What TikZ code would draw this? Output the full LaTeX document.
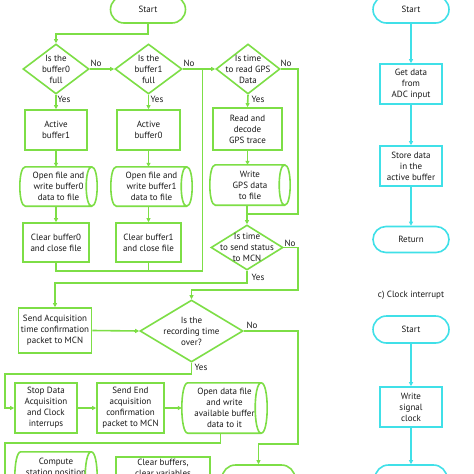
\documentclass[tikz,border=0pt]{standalone}
\usepackage{fontspec}
\setmainfont{PT Sans}
\usetikzlibrary{shapes.geometric,shapes.misc,arrows.meta,calc}
\definecolor{gr}{RGB}{125,222,70}
\definecolor{cy}{RGB}{64,224,232}
\definecolor{tx}{RGB}{25,25,25}
\newcommand\cylout[3]{%
  \draw[line width=1.6pt, draw=#3] let \p1=(#1.north west), \p2=(#1.south east) in
  (\x1+#2pt,\y1) -- (\x2-#2pt,\y1)
  .. controls (\x2+#2pt/3,\y1) and (\x2+#2pt/3,\y2) .. (\x2-#2pt,\y2)
  -- (\x1+#2pt,\y2)
  .. controls (\x1-#2pt/3,\y2) and (\x1-#2pt/3,\y1) .. cycle
  (\x2-#2pt,\y1) .. controls (\x2-7*#2pt/3,\y1) and (\x2-7*#2pt/3,\y2) .. (\x2-#2pt,\y2);}
\begin{document}
\begin{tikzpicture}[x=1pt,y=-1pt,
  every node/.style={font=\fontsize{9}{11}\selectfont, text=tx, align=center, inner sep=0pt},
  gl/.style={draw=gr, line width=1.6pt},
  cl/.style={draw=cy, line width=1.6pt},
  arr/.style={-{Triangle[length=4pt,width=4pt]}},
  term/.style={rounded rectangle, minimum height=27pt},
  proc/.style={rectangle},
  dec/.style={diamond},
  cyl/.style={rectangle},
  yn/.style={font=\fontsize{9}{11}\selectfont}
]
\useasboundingbox (0,0) rectangle (474,474);
\clip (0,0) rectangle (474,474);
\fill[white] (0,0) rectangle (474,474);

% ---------- left flowchart ----------
\node[term, gl, minimum width=75pt] (ls) at (148,9.5) {Start};
\node[dec, gl, minimum width=66pt, minimum height=50pt, label={[align=center]center:Is the\\buffer0\\full}] (d1) at (56,69) {};
\node[dec, gl, minimum width=67pt, minimum height=50pt, label={[align=center]center:Is the\\buffer1\\full}] (d2) at (148.5,69) {};
\node[dec, gl, minimum width=64pt, minimum height=50pt, label={[align=center]center:Is time\\to read GPS\\Data}] (d3) at (248,69) {};
\node[proc, gl, minimum width=62pt, minimum height=40pt] (b1) at (56,130) {Active\\buffer1};
\node[proc, gl, minimum width=63pt, minimum height=40pt] (b2) at (148.5,130) {Active\\buffer0};
\node[proc, gl, minimum width=69pt, minimum height=42pt] (b3) at (247.5,129) {Read and\\decode\\GPS trace};
\node[cyl, minimum width=77pt, minimum height=39pt] (c1) at (58.5,186.5) {Open file and\\write buffer0\\data to file};
\node[cyl, minimum width=81pt, minimum height=39pt] (c2) at (151.5,186.5) {Open file and\\write buffer1\\data to file};
\node[cyl, minimum width=80pt, minimum height=40pt] (c3) at (250,185) {Write\\GPS data\\to file};
\cylout{c1}{5.5}{gr}
\cylout{c2}{5.5}{gr}
\cylout{c3}{5.5}{gr}
\node[proc, gl, minimum width=66pt, minimum height=39pt] (cl1) at (56,242.5) {Clear buffer0\\and close file};
\node[proc, gl, minimum width=65pt, minimum height=39pt] (cl2) at (148.5,242.5) {Clear buffer1\\and close file};
\node[dec, gl, minimum width=72pt, minimum height=45pt, label={[align=center]center:Is time\\to send status\\to MCN}] (d4) at (247,247.5) {};
\node[proc, gl, minimum width=73pt, minimum height=45pt] (sa) at (55,330.5) {Send Acquisition\\time confirmation\\packet to MCN};
\node[dec, gl, minimum width=103pt, minimum height=62pt, label={[align=center]center:Is the\\recording time\\over?}] (d5) at (191.5,331) {};
\node[proc, gl, minimum width=62pt, minimum height=50pt] (sd) at (46,408) {Stop Data\\Acquisition\\and Clock\\interrups};
\node[proc, gl, minimum width=67pt, minimum height=50pt] (se) at (130.5,408) {Send End\\acquisition\\confirmation\\packet to MCN};
\node[cyl, minimum width=85pt, minimum height=50pt] (od) at (224.5,408) {Open data file\\and write\\available buffer\\data to it};
\cylout{od}{6}{gr}
\node[cyl, minimum width=82pt, minimum height=50pt, label={[align=center,anchor=north,yshift=-6.5pt]north:Compute\\station position}] (cs) at (56,477) {};
\cylout{cs}{6}{gr}
\node[proc, gl, minimum width=94pt, minimum height=45pt, label={[align=center,anchor=north,yshift=-2.5pt]north:Clear buffers,\\clear variables}] (cb) at (163,479.5) {};
\node[term, gl, minimum width=73pt] (fs) at (258.5,478.5) {};

\coordinate (j1) at (202.5,69);
\coordinate (jb) at (202.5,271);
\coordinate (j2) at (298,214);
\coordinate (j3) at (298,290);
\coordinate (j5) at (298,444);
\coordinate (j6) at (5,408);
\coordinate (j7) at (5,490);

\draw[gl, arr] (ls.south) -- ++(0,10) -| (d1.north);
\draw[gl, arr] (d1.east) -- (d2.west);
\draw[gl, arr] (d2.east) -- (d3.west);
\draw[gl, arr] (d1.south) -- (b1.north);
\draw[gl, arr] (d2.south) -- (b2.north);
\draw[gl, arr] (d3.south) -- (b3.north);
\draw[gl, arr] (b1.south) -- (b1.south |- c1.north);
\draw[gl, arr] (b2.south) -- (b2.south |- c2.north);
\draw[gl, arr] (cl1.north |- c1.south) -- (cl1.north);
\draw[gl, arr] (cl2.north |- c2.south) -- (cl2.north);
\draw[gl, arr] (b3.south) -- (b3.south |- c3.north);
\draw[gl, arr] (d4.north |- c3.south) -- (d4.north);
\draw[gl] (cl1.south) |- (jb) -- (j1);
\draw[gl] (cl2.south) -- (cl2.south |- jb);
\draw[gl] (d3.east) -| (j2) -- (d4.north |- j2);
\draw[gl, arr] (d4.east) -| (j3) -| (d5.north);
\draw[gl, arr] (d4.south) -- ++(0,12) -| (sa.north);
\draw[gl, arr] (sa.east) -- (d5.west);
\draw[gl, arr] (d5.east) -| (j5) -| (fs.north);
\draw[gl, arr] (d5.south) -- ++(0,11) -| (j6) -- (sd.west);
\draw[gl, arr] (sd.east) -- (se.west);
\draw[gl, arr] (se.east) -- (od.west);
\draw[gl] ([xshift=-4pt]od.south) -- ++(0,10) -| (j7);

\node[yn] (n1) at (96,63) {No};
\node[yn] (y1) at (64,99) {Yes};
\node[yn] (n2) at (189,63) {No};
\node[yn] (y2) at (157,99) {Yes};
\node[yn] (n3) at (286,63) {No};
\node[yn] (y3) at (258,99) {Yes};
\node[yn] (n4) at (290,243) {No};
\node[yn] (y4) at (258,277) {Yes};
\node[yn] (n5) at (252,325) {No};
\node[yn] (y5) at (201,367) {Yes};

% ---------- right flowcharts ----------
\node[term, cl, minimum width=76pt] (rs) at (411,9.5) {Start};
\node[proc, cl, minimum width=62pt, minimum height=40pt] (rg) at (411,84) {Get data\\from\\ADC input};
\node[proc, cl, minimum width=62pt, minimum height=40pt] (rst) at (411,166) {Store data\\in the\\active buffer};
\node[term, cl, minimum width=76pt, minimum height=26pt] (rr) at (411,239.5) {Return};
\node (ck) at (411,295) {c) Clock interrupt};
\node[term, cl, minimum width=76pt] (rs2) at (411,329.5) {Start};
\node[proc, cl, minimum width=62pt, minimum height=40pt] (rw) at (411,407) {Write\\signal\\clock};
\node[term, cl, minimum width=72pt] (rb) at (411,478.5) {};

\draw[cl, arr] (rs.south) -- (rg.north);
\draw[cl, arr] (rg.south) -- (rst.north);
\draw[cl, arr] (rst.south) -- (rr.north);
\draw[cl, arr] (rs2.south) -- (rw.north);
\draw[cl, arr] (rw.south) -- (rb.north);
\end{tikzpicture}
\end{document}
